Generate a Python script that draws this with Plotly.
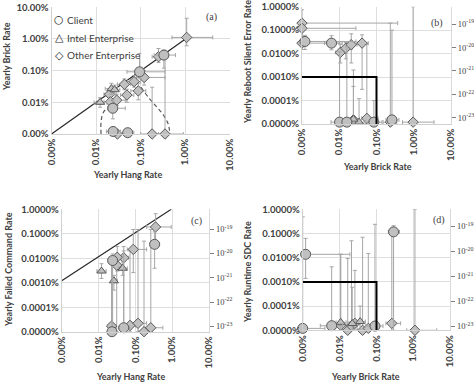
import plotly.graph_objects as go

# ---------------- data (values in percent) ----------------
# Panel (a): Yearly Hang Rate (x) vs Yearly Brick Rate (y)
a_cli_x = [0.094, 0.33, 0.0236, 0.024, 0.051]
a_cli_y = [0.092, 0.31, 0.0065, 0.0012, 0.0011]
a_cli_xlo = [0.049, 0.20, 0.018, 0.017, 0.035]
a_cli_xhi = [0.35, 0.60, 0.045, 0.035, 0.070]
a_cli_ylo = [0.055, 0.12, 0.003, 0.001, 0.001]
a_cli_yhi = [0.35, 0.45, 0.012, 0.0015, 0.0013]

a_int_x = [0.0123, 0.022, 0.026]
a_int_y = [0.010, 0.027, 0.025]
a_int_xlo = [0.009, 0.016, 0.020]
a_int_xhi = [0.017, 0.030, 0.034]
a_int_ylo = [0.007, 0.018, 0.017]
a_int_yhi = [0.014, 0.040, 0.035]

a_oth_x = [1.07, 0.25, 0.119, 0.071, 0.043, 0.088, 0.020, 0.049, 0.021, 0.029, 0.030, 0.18, 0.35]
a_oth_y = [1.12, 0.275, 0.061, 0.045, 0.037, 0.023, 0.018, 0.017, 0.0104, 0.0117, 0.001, 0.001, 0.001]
a_oth_xlo = [0.50, 0.18, 0.080, 0.050, 0.030, 0.060, 0.015, 0.035, 0.015, 0.021, 0.022, 0.10, 0.25]
a_oth_xhi = [4.1, 0.40, 0.35, 0.10, 0.060, 0.13, 0.028, 0.070, 0.030, 0.045, 0.040, 0.40, 0.90]
a_oth_ylo = [0.61, 0.18, 0.035, 0.030, 0.025, 0.012, 0.012, 0.010, 0.007, 0.008, 0.001, 0.001, 0.001]
a_oth_yhi = [4.5, 0.50, 0.10, 0.070, 0.055, 0.040, 0.027, 0.026, 0.016, 0.018, 0.0012, 0.030, 0.30]

a_diag_x = [0.001, 1.1]
a_diag_y = [0.001, 1.1]
a_bound_x = [0.0129, 0.0129, 0.0143, 0.0186, 0.024, None, 0.102, 0.146, 0.22, 0.32, 0.41, 0.45]
a_bound_y = [0.001, 0.0024, 0.0046, 0.0071, 0.0089, None, 0.030, 0.0147, 0.0076, 0.004, 0.0021, 0.001]

# Panel (b): Yearly Brick Rate (x) vs Yearly Reboot Silent Error Rate (y)
b_cli_x = [0.0012, 0.0062, 0.0102, 0.016, 0.085, 0.26]
b_cli_y = [0.033, 0.028, 0.000012, 0.000012, 0.000012, 0.000015]
b_cli_xlo = [0.001, 0.004, 0.006, 0.011, 0.05, 0.18]
b_cli_xhi = [0.028, 0.012, 0.020, 0.025, 0.14, 0.40]
b_cli_ylo = [0.015, 0.0145, 0.00001, 0.00001, 0.00001, 0.00001]
b_cli_yhi = [0.06, 0.058, 0.012, 0.020, 0.0001, 0.10]

b_int_x = [0.034, 0.024]
b_int_y = [0.000012, 0.000016]
b_int_xlo = [0.025, 0.017]
b_int_xhi = [0.050, 0.035]
b_int_ylo = [0.00001, 0.00001]
b_int_yhi = [0.00012, 0.0004]

b_oth_x = [0.001, 0.001, 0.001, 0.0107, 0.015, 0.021, 0.041, 0.024, 0.055, 0.235, 0.96]
b_oth_y = [0.2, 0.12, 0.028, 0.0112, 0.017, 0.024, 0.028, 0.000015, 0.0000175, 0.000012, 0.000012]
b_oth_xlo = [0.001, 0.001, 0.001, 0.008, 0.011, 0.015, 0.030, 0.017, 0.040, 0.15, 0.50]
b_oth_xhi = [0.37, 0.028, 0.010, 0.015, 0.022, 0.030, 0.060, 0.035, 0.11, 0.35, 3.5]
b_oth_ylo = [0.05, 0.05, 0.015, 0.004, 0.006, 0.004, 0.0003, 0.00001, 0.00001, 0.00001, 0.00001]
b_oth_yhi = [0.74, 0.20, 0.05, 0.025, 0.030, 0.070, 0.063, 0.002, 0.025, 0.20, 1.0]

# Panel (c): Yearly Hang Rate (x) vs Yearly Failed Command Rate (y)
c_cli_x = [0.33, 0.024, 0.023, 0.048]
c_cli_y = [0.037, 0.0081, 0.00001, 0.0000145]
c_cli_xlo = [0.25, 0.018, 0.018, 0.035]
c_cli_xhi = [0.45, 0.030, 0.030, 0.070]
c_cli_ylo = [0.0039, 0.00001, 0.00001, 0.00001]
c_cli_yhi = [0.12, 0.015, 0.010, 0.030]

c_int_x = [0.012, 0.045, 0.026]
c_int_y = [0.003, 0.0039, 0.0012]
c_int_xlo = [0.009, 0.035, 0.022]
c_int_xhi = [0.016, 0.060, 0.032]
c_int_ylo = [0.0015, 0.002, 0.0005]
c_int_yhi = [0.006, 0.007, 0.002]

c_oth_x = [0.35, 0.087, 0.048, 0.032, 0.031, 0.0225, 0.071, 0.117, 0.17, 0.26]
c_oth_y = [0.19, 0.023, 0.0105, 0.011, 0.0052, 0.000017, 0.000018, 0.000022, 0.00001, 0.0000145]
c_oth_xlo = [0.20, 0.060, 0.035, 0.025, 0.024, 0.018, 0.050, 0.080, 0.12, 0.18]
c_oth_xhi = [0.93, 0.20, 0.065, 0.045, 0.040, 0.030, 0.10, 0.20, 0.25, 0.55]
c_oth_ylo = [0.04, 0.0026, 0.00001, 0.003, 0.00001, 0.00001, 0.00001, 0.00001, 0.00001, 0.00001]
c_oth_yhi = [0.66, 0.15, 0.020, 0.030, 0.009, 0.009, 0.020, 0.15, 0.05, 0.15]

c_diag_x = [0.001, 0.93]
c_diag_y = [0.0012, 1.0]

# Panel (d): Yearly Brick Rate (x) vs Yearly Runtime SDC Rate (y)
d_cli_x = [0.29, 0.0012, 0.001, 0.0061, 0.091]
d_cli_y = [0.117, 0.0138, 0.000012, 0.0000155, 0.000015]
d_cli_xlo = [0.21, 0.001, 0.001, 0.003, 0.05]
d_cli_xhi = [0.42, 0.019, 0.004, 0.012, 0.15]
d_cli_ylo = [0.00001, 0.0014, 0.00001, 0.00001, 0.00001]
d_cli_yhi = [0.21, 0.063, 0.49, 0.0042, 0.24]

d_int_x = [0.0107, 0.036, 0.022]
d_int_y = [0.0000214, 0.000023, 0.000019]
d_int_xlo = [0.008, 0.028, 0.017]
d_int_xhi = [0.015, 0.050, 0.030]
d_int_ylo = [0.00001, 0.00001, 0.00001]
d_int_yhi = [0.0138, 0.0001, 0.0006]

d_oth_x = [0.0107, 0.0166, 0.021, 0.026, 0.042, 0.06, 0.26, 1.1]
d_oth_y = [0.000016, 0.00001, 0.0000155, 0.0000194, 0.00001, 0.000012, 0.0000194, 0.00001]
d_oth_xlo = [0.006, 0.012, 0.015, 0.018, 0.030, 0.040, 0.18, 0.66]
d_oth_xhi = [0.020, 0.030, 0.030, 0.035, 0.060, 0.090, 0.45, 4.3]
d_oth_ylo = [0.00001, 0.00001, 0.00001, 0.00001, 0.00001, 0.00001, 0.00001, 0.00001]
d_oth_yhi = [0.0138, 0.0092, 0.05, 0.003, 0.07, 0.015, 0.10, 1.0]

# Thresholds for (b) and (d)
thr_x = [0.001, 0.1, 0.1]
thr_y = [0.001, 0.001, 0.00001]

x_tickvals = [0.001, 0.01, 0.1, 1, 10]
x_ticktext = ["0.00%", "0.01%", "0.10%", "1.00%", "10.00%"]
ya_tickvals = [0.001, 0.01, 0.1, 1, 10]
ya_ticktext = ["0.00%", "0.01%", "0.10%", "1.00%", "10.00%"]
yb_tickvals = [0.00001, 0.0001, 0.001, 0.01, 0.1, 1]
yb_ticktext = ["0.0000%", "0.0001%", "0.0010%", "0.0100%", "0.1000%", "1.0000%"]
r_tickvals = [1e-23, 1e-22, 1e-21, 1e-20, 1e-19]
r_ticktext = ["10<sup>-23</sup>", "10<sup>-22</sup>", "10<sup>-21</sup>", "10<sup>-20</sup>", "10<sup>-19</sup>"]

legend_names = ["Client", "Intel Enterprise", "Other Enterprise"]
legend_glyphs = ["○", "△", "◇"]

# ---------------- figure ----------------
FILL = "#c0c0c0"
EDGE = "#595959"
ERR = "#a6a6a6"
TXT = "#404040"
FONT = "Lato"

fig = go.Figure()


def add_pts(x, y, xlo, xhi, ylo, yhi, symbol, size, xa, ya, name):
    fig.add_trace(go.Scatter(
        x=x, y=y, mode="markers", xaxis=xa, yaxis=ya, showlegend=False, name=name,
        cliponaxis=False, hoverinfo="skip",
        marker=dict(symbol=symbol, size=size, color=FILL, line=dict(color=EDGE, width=1)),
        error_x=dict(type="data", symmetric=False,
                     array=[h - v for h, v in zip(xhi, x)],
                     arrayminus=[v - l for v, l in zip(x, xlo)],
                     color=ERR, thickness=1, width=2),
        error_y=dict(type="data", symmetric=False,
                     array=[h - v for h, v in zip(yhi, y)],
                     arrayminus=[v - l for v, l in zip(y, ylo)],
                     color=ERR, thickness=1, width=2),
    ))


def add_line(x, y, xa, ya, width=1.2, dash="solid", color="#262626", shape="linear"):
    fig.add_trace(go.Scatter(x=x, y=y, mode="lines", xaxis=xa, yaxis=ya, showlegend=False,
                             hoverinfo="skip", cliponaxis=False,
                             line=dict(color=color, width=width, dash=dash, shape=shape)))


# panel a
add_line(a_diag_x, a_diag_y, "x", "y", width=1.2)
add_line(a_bound_x, a_bound_y, "x", "y", width=1.2, dash="4px,3px", color="#595959", shape="spline")
add_pts(a_oth_x, a_oth_y, a_oth_xlo, a_oth_xhi, a_oth_ylo, a_oth_yhi, "diamond", 8, "x", "y", legend_names[2])
add_pts(a_int_x, a_int_y, a_int_xlo, a_int_xhi, a_int_ylo, a_int_yhi, "triangle-up", 8, "x", "y", legend_names[1])
add_pts(a_cli_x, a_cli_y, a_cli_xlo, a_cli_xhi, a_cli_ylo, a_cli_yhi, "circle", 10, "x", "y", legend_names[0])

# panel b
add_pts(b_oth_x, b_oth_y, b_oth_xlo, b_oth_xhi, b_oth_ylo, b_oth_yhi, "diamond", 8, "x2", "y2", legend_names[2])
add_pts(b_int_x, b_int_y, b_int_xlo, b_int_xhi, b_int_ylo, b_int_yhi, "triangle-up", 8, "x2", "y2", legend_names[1])
add_pts(b_cli_x, b_cli_y, b_cli_xlo, b_cli_xhi, b_cli_ylo, b_cli_yhi, "circle", 10, "x2", "y2", legend_names[0])
add_line(thr_x, thr_y, "x2", "y2", width=2, color="#000000")

# panel c
add_line(c_diag_x, c_diag_y, "x3", "y3", width=1.2)
add_pts(c_oth_x, c_oth_y, c_oth_xlo, c_oth_xhi, c_oth_ylo, c_oth_yhi, "diamond", 8, "x3", "y3", legend_names[2])
add_pts(c_int_x, c_int_y, c_int_xlo, c_int_xhi, c_int_ylo, c_int_yhi, "triangle-up", 8, "x3", "y3", legend_names[1])
add_pts(c_cli_x, c_cli_y, c_cli_xlo, c_cli_xhi, c_cli_ylo, c_cli_yhi, "circle", 10, "x3", "y3", legend_names[0])

# panel d
add_pts(d_oth_x, d_oth_y, d_oth_xlo, d_oth_xhi, d_oth_ylo, d_oth_yhi, "diamond", 8, "x4", "y4", legend_names[2])
add_pts(d_int_x, d_int_y, d_int_xlo, d_int_xhi, d_int_ylo, d_int_yhi, "triangle-up", 8, "x4", "y4", legend_names[1])
add_pts(d_cli_x, d_cli_y, d_cli_xlo, d_cli_xhi, d_cli_ylo, d_cli_yhi, "circle", 10, "x4", "y4", legend_names[0])
add_line(thr_x, thr_y, "x4", "y4", width=2, color="#000000")

# invisible traces anchoring the right-hand axes
for xa, ya in (("x2", "y5"), ("x3", "y6"), ("x4", "y7")):
    fig.add_trace(go.Scatter(x=[0.01], y=[1e-21], xaxis=xa, yaxis=ya, mode="markers",
                             marker=dict(opacity=0), showlegend=False, hoverinfo="skip"))

tickfont = dict(family=FONT, size=9.5, color=TXT, weight="bold")
rfont = dict(family="Liberation Serif", size=8.5, color=TXT)


def xax(domain, anchor):
    return dict(type="log", domain=domain, anchor=anchor, range=[-3, 1], automargin=False,
                tickvals=x_tickvals, ticktext=x_ticktext, tickangle=-90, tickfont=tickfont,
                showgrid=True, gridcolor="#dedede", gridwidth=1, zeroline=False,
                showline=True, linecolor="#d0d0d0", ticks="", fixedrange=True)


def yax(domain, anchor, rng, tv, tt):
    return dict(type="log", domain=domain, anchor=anchor, range=rng, automargin=False,
                tickvals=tv, ticktext=tt, tickfont=tickfont,
                showgrid=True, gridcolor="#dedede", gridwidth=1, zeroline=False,
                showline=True, linecolor="#d0d0d0", ticks="", fixedrange=True)


def rax(overlay, anchor, rng):
    return dict(type="log", overlaying=overlay, anchor=anchor, side="right", range=rng,
                automargin=False,
                tickvals=r_tickvals, ticktext=r_ticktext, tickfont=rfont,
                showgrid=False, zeroline=False, showline=True, linecolor="#d9d9d9",
                ticks="outside", ticklen=4, tickcolor="#7f7f7f", fixedrange=True)


W, H = 474, 382


def dx(p0, p1):
    return [p0 / W, p1 / W]


def dy(top, bottom):
    return [1 - bottom / H, 1 - top / H]


fig.update_layout(
    width=W, height=H, margin=dict(l=0, r=0, t=0, b=0, autoexpand=False),
    paper_bgcolor="white", plot_bgcolor="white",
    font=dict(family=FONT, color=TXT),
    xaxis=xax(dx(51.5, 230), "y"),
    yaxis=yax(dy(7.3, 134), "x", [-3, 1], ya_tickvals, ya_ticktext),
    xaxis2=xax(dx(302, 451), "y2"),
    yaxis2=yax(dy(6.7, 124), "x2", [-5, 0], yb_tickvals, yb_ticktext),
    xaxis3=xax(dx(61.7, 209.3), "y3"),
    yaxis3=yax(dy(209.3, 331.7), "x3", [-5, 0], yb_tickvals, yb_ticktext),
    xaxis4=xax(dx(302.7, 450.3), "y4"),
    yaxis4=yax(dy(209.3, 330.3), "x4", [-5, 0], yb_tickvals, yb_ticktext),
    yaxis5=rax("y2", "x2", [-23.26, -18.26]),
    yaxis6=rax("y3", "x3", [-23.22, -18.18]),
    yaxis7=rax("y4", "x4", [-23.16, -18.32]),
    showlegend=False,
)

ann = []
titles = [
    ("Yearly Hang Rate", 127, 174, 0),
    ("Yearly Brick Rate", 377, 167, 0),
    ("Yearly Hang Rate", 130, 376, 0),
    ("Yearly Brick Rate", 365, 376, 0),
    ("Yearly Brick Rate", 6, 57, -90),
    ("Yearly Reboot Silent Error Rate", 247, 62, -90),
    ("Yearly Failed Command Rate", 8, 270, -90),
    ("Yearly Runtime SDC Rate", 247, 272, -90),
]
for t, px, py, ang in titles:
    ann.append(dict(text=t, x=px / W, y=1 - py / H, xref="paper", yref="paper",
                    showarrow=False, textangle=ang, xanchor="center", yanchor="middle",
                    font=dict(family=FONT, size=9, color=TXT, weight="bold")))
for t, px, py in (("(a)", 211, 17), ("(b)", 437, 23), ("(c)", 196, 221), ("(d)", 439, 220)):
    ann.append(dict(text=t, x=px / W, y=1 - py / H, xref="paper", yref="paper",
                    showarrow=False, xanchor="center", yanchor="middle",
                    font=dict(family="Liberation Serif", size=10, color=TXT)))
# legend (symbol glyph + label), inside panel (a)
for i, (g, nm) in enumerate(zip(legend_glyphs, legend_names)):
    yy = 20 + i * 17.5
    ann.append(dict(text=g, x=59 / W, y=1 - yy / H, xref="paper", yref="paper",
                    showarrow=False, xanchor="center", yanchor="middle",
                    font=dict(family="DejaVu Sans", size=11, color="#262626", weight="bold")))
    ann.append(dict(text=nm, x=65 / W, y=1 - yy / H, xref="paper", yref="paper",
                    showarrow=False, xanchor="left", yanchor="middle",
                    font=dict(family=FONT, size=10, color=TXT)))
fig.update_layout(annotations=ann)

fig.write_html("out.html", config={"displayModeBar": False, "staticPlot": True},
               post_script="document.body.style.margin='0';document.body.style.padding='0';"
                           "document.body.style.overflow='hidden';")
